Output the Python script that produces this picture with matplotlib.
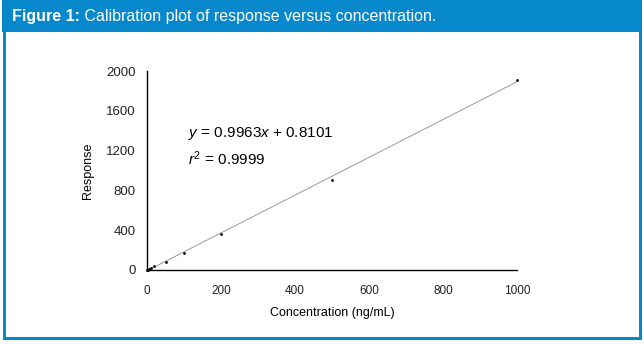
import matplotlib
matplotlib.use("Agg")
import matplotlib.pyplot as plt
from matplotlib.patches import Rectangle
import numpy as np

plt.rcParams['font.family'] = ['Liberation Sans', 'DejaVu Sans']
plt.rcParams['mathtext.fontset'] = 'custom'
plt.rcParams['mathtext.rm'] = 'Liberation Sans'
plt.rcParams['mathtext.it'] = 'Liberation Sans:italic'

# Data
concentration = [1, 2, 5, 10, 20, 50, 100, 200, 500, 1000]
response = [2, 4, 9, 19, 37, 85, 171, 362, 909, 1912]
x_ticks = [0, 200, 400, 600, 800, 1000]
y_ticks = [0, 400, 800, 1200, 1600, 2000]
title_bold = "Figure 1:"
title_rest = " Calibration plot of response versus concentration."
equation = "$y$ = 0.9963$x$ + 0.8101"
r2_text = "$r^2$ = 0.9999"

BLUE = "#0888cc"
W, H = 644, 344
fig = plt.figure(figsize=(W / 100, H / 100), dpi=100)
fig.patch.set_facecolor("white")

def px_rect(x0, y0, x1, y1):
    # pixel coords with origin top-left
    return Rectangle((x0 / W, 1 - y1 / H), (x1 - x0) / W, (y1 - y0) / H,
                     transform=fig.transFigure, facecolor=BLUE, edgecolor="none")

fig.add_artist(px_rect(2, 0, 642, 32))     # header
fig.add_artist(px_rect(3, 32, 6, 340))     # left border
fig.add_artist(px_rect(639, 32, 642, 340)) # right border
fig.add_artist(px_rect(3, 337, 642, 340))  # bottom border

t1 = fig.text(12 / W, 1 - 17 / H, title_bold, color="white", fontsize=11.5,
              fontweight="bold", va="center", ha="left")
fig.canvas.draw()
bb = t1.get_window_extent()
fig.text(bb.x1 / W, 1 - 17 / H, title_rest, color="white", fontsize=11.5,
         va="center", ha="left")

ax = fig.add_axes([147 / W, 1 - 270 / H, (517 - 147) / W, (270 - 71) / H])
ax.set_xlim(0, 1000)
ax.set_ylim(0, 2000)
ax.spines['top'].set_visible(False)
ax.spines['right'].set_visible(False)
for s in ('left', 'bottom'):
    ax.spines[s].set_linewidth(1.0)
    ax.spines[s].set_color("black")
ax.set_xticks(x_ticks)
ax.set_yticks(y_ticks)
ax.tick_params(axis='x', length=0, labelsize=8.5, pad=11, colors="#222222")
ax.tick_params(axis='y', length=0, labelsize=9.5, pad=8, colors="#222222")
ax.set_xlabel("Concentration (ng/mL)", fontsize=9, labelpad=7)
ax.set_ylabel("Response", fontsize=9, labelpad=9)

coef = np.polyfit(concentration, response, 1)
xs = np.array([0, max(concentration)])
ax.plot(xs, np.polyval(coef, xs), color="#999999", lw=0.7, zorder=2, clip_on=False)
ax.scatter(concentration, response, s=4, color="black", zorder=3, clip_on=False,
           linewidths=0)

ax.text(0.11, 0.685, equation, transform=ax.transAxes, fontsize=11, va="center")
ax.text(0.11, 0.56, r2_text, transform=ax.transAxes, fontsize=11, va="center")

fig.savefig("out.png", dpi=100)
